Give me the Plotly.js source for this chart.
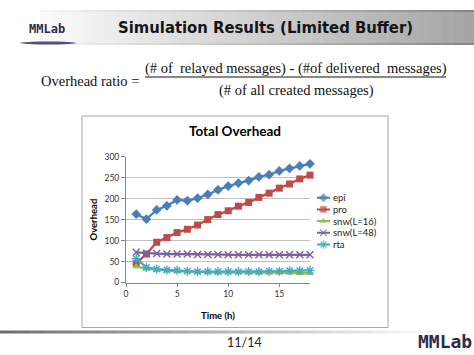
<!DOCTYPE html>
<html>
<head>
<meta charset="utf-8">
<script src="https://cdn.plot.ly/plotly-3.0.1.min.js"></script>
<style>html,body{margin:0;padding:0;background:#fff;}#chart{width:474px;height:355px;}</style>
</head>
<body>
<div id="chart"></div>
<script>
// ---- data ----
const timeH = [1,2,3,4,5,6,7,8,9,10,11,12,13,14,15,16,17,18];
const seriesNames = ['epi','pro','snw(L=16)','snw(L=48)','rta'];
const epi   = [163,151,173,183,197,195,201,210,221,230,237,243,252,257,266,272,278,283];
const pro   = [46,68,96,107,119,127,137,150,162,171,182,191,203,213,225,235,247,256];
const snw16 = [38,33,30,28,27,26,25,25,24,24,24,24,23,23,23,23,22,22];
const snw48 = [72,70,69,68,68,68,67,67,67,66,66,66,66,66,66,66,66,66];
const rta   = [57,36,32,30,29,27,26,26,26,26,26,26,26,27,27,28,28,29];
const xTicks = [0,5,10,15];
const yTicks = [0,50,100,150,200,250,300];

const seriesValues = [epi, pro, snw16, snw48, rta];
const colors  = ['#4a7ebb','#be4b48','#98b954','#7d60a0','#46aac5'];
const symbols = ['diamond','square','triangle-up','x-thin-open','asterisk-open'];
const msizes  = [7.5,7,7,7,7.5];

const W = 474, H = 355;
const px = x => x / W;
const py = y => 1 - y / H;

const traces = [];
seriesValues.forEach((vals, i) => {
  const open = symbols[i].indexOf('open') >= 0;
  traces.push({
    x: timeH, y: vals, name: seriesNames[i], type: 'scatter', mode: 'lines+markers',
    line: {color: colors[i], width: 2.3},
    marker: {symbol: symbols[i], size: msizes[i], color: colors[i], line: {color: colors[i], width: open ? 1.4 : 0}},
    showlegend: false, xaxis: 'x', yaxis: 'y', cliponaxis: false
  });
  // legend sample
  traces.push({
    x: [0, 0.5, 1], y: [i, i, i], type: 'scatter', mode: 'lines+markers',
    line: {color: colors[i], width: 2},
    marker: {symbol: symbols[i], size: [0, msizes[i] - 0.5, 0], color: colors[i], line: {color: colors[i], width: open ? 1.3 : 0}},
    showlegend: false, xaxis: 'x2', yaxis: 'y2', hoverinfo: 'skip', cliponaxis: false
  });
});

const shapes = [];
// title bar gradient strips
const barL = 40, barR = 474, nStrips = 40;
for (let k = 0; k < nStrips; k++) {
  const t = k / (nStrips - 1);
  const g = Math.round(250 - t * 85);
  const x0 = barL + (barR - barL) * k / nStrips, x1 = barL + (barR - barL) * (k + 1) / nStrips + 0.5;
  shapes.push({type: 'rect', xref: 'paper', yref: 'paper', x0: px(x0), x1: px(x1), y0: py(44), y1: py(11),
    fillcolor: `rgb(${g},${g},${g})`, line: {width: 0}, layer: 'below'});
  const g2 = Math.round(245 - t * 110);
  shapes.push({type: 'rect', xref: 'paper', yref: 'paper', x0: px(x0), x1: px(x1), y0: py(12), y1: py(10),
    fillcolor: `rgb(${g2},${g2},${g2})`, line: {width: 0}, layer: 'below'});
  shapes.push({type: 'rect', xref: 'paper', yref: 'paper', x0: px(x0), x1: px(x1), y0: py(45), y1: py(43),
    fillcolor: `rgb(${g2},${g2},${g2})`, line: {width: 0}, layer: 'below'});
}
// logo shadow
shapes.push({type: 'circle', xref: 'paper', yref: 'paper', x0: px(20), x1: px(76), y0: py(44.5), y1: py(41.5),
  fillcolor: 'rgba(40,40,90,0.8)', line: {width: 0}});
// fraction bar
shapes.push({type: 'line', xref: 'paper', yref: 'paper', x0: px(145), x1: px(446), y0: py(77), y1: py(77),
  line: {color: '#111', width: 1}});
// chart box
shapes.push({type: 'rect', xref: 'paper', yref: 'paper', x0: px(82), x1: px(388), y0: py(327.5), y1: py(116),
  line: {color: '#a6a6a6', width: 1}, fillcolor: 'rgba(0,0,0,0)', layer: 'below'});
// bottom line gradient
const nB = 30;
for (let k = 0; k < nB; k++) {
  const t = k / (nB - 1);
  const g = Math.round(110 + t * 140);
  shapes.push({type: 'rect', xref: 'paper', yref: 'paper', x0: px(430 * k / nB), x1: px(430 * (k + 1) / nB + 0.5),
    y0: py(333.5), y1: py(330.5), fillcolor: `rgb(${g},${g},${g})`, line: {width: 0}, layer: 'below'});
}

function ann(text, x, y, font, xanchor) {
  return {text: text, x: px(x), y: py(y), xref: 'paper', yref: 'paper', showarrow: false,
    xanchor: xanchor || 'center', yanchor: 'middle', font: font};
}
const serif = {family: 'Liberation Serif, serif', size: 14.5, color: '#111'};
const annotations = [
  ann('Simulation Results (Limited Buffer)', 265, 27.5,
    {family: 'DejaVu Sans Condensed, sans-serif', size: 16.5, color: '#151515', weight: 'bold'}),
  ann('MMLab', 47, 28.5, {family: 'DejaVu Sans Mono, monospace', size: 12, color: '#2c2c4e', weight: 'bold'}),
  ann('MMLab', 445, 341, {family: 'DejaVu Sans Mono, monospace', size: 18, color: '#2c2c4e', weight: 'bold'}),
  ann('Overhead ratio =', 39, 80.5, serif, 'left'),
  ann('(# of  relayed messages) - (#of delivered  messages)', 296, 69, serif),
  ann('(# of all created messages)', 296, 90.5, serif),
  ann('Total Overhead', 235, 131, {family: 'Lato, sans-serif', size: 13.5, color: '#000', weight: 'bold'}),
  ann('11/14', 244, 342, {family: 'Lato, sans-serif', size: 12.5, color: '#222'})
];
seriesNames.forEach((n, i) => {
  annotations.push({text: n, x: px(331), y: i, xref: 'paper', yref: 'y2', xanchor: 'left', yanchor: 'middle', showarrow: false,
    font: {family: 'Lato, sans-serif', size: 9.5, color: '#222'}});
});

const layout = {
  width: W, height: H, margin: {l: 0, r: 0, t: 0, b: 0},
  paper_bgcolor: '#fff', plot_bgcolor: 'rgba(0,0,0,0)', showlegend: false,
  xaxis: {domain: [px(126), px(310)], range: [0, 18], tickvals: xTicks, ticktext: xTicks.map(String),
    showgrid: false, zeroline: false, showline: true, linecolor: '#868686', linewidth: 1,
    ticks: 'outside', ticklen: 3, tickcolor: '#868686',
    tickfont: {family: 'Lato, sans-serif', size: 8.5, color: '#333'},
    title: {text: 'Time (h)', font: {family: 'Lato, sans-serif', size: 9.5, color: '#000', weight: 'bold'}, standoff: 14}},
  yaxis: {domain: [py(282.5), py(156.7)], range: [0, 300], tickvals: yTicks, ticktext: yTicks.map(String),
    showgrid: true, gridcolor: '#c0c0c0', gridwidth: 1, zeroline: false, showline: true, linecolor: '#868686',
    ticks: 'outside', ticklen: 4, tickcolor: '#868686',
    tickfont: {family: 'Lato, sans-serif', size: 8.5, color: '#333'},
    title: {text: 'Overhead', font: {family: 'Lato, sans-serif', size: 9.5, color: '#000', weight: 'bold'}, standoff: 5}},
  xaxis2: {domain: [px(317), px(330)], range: [0, 1], visible: false, fixedrange: true},
  yaxis2: {domain: [py(250.35), py(191.85)], range: [4.5, -0.5], visible: false, fixedrange: true, anchor: 'x2'},
  shapes: shapes, annotations: annotations
};

Plotly.newPlot('chart', traces, layout, {displayModeBar: false, staticPlot: true});
</script>
</body>
</html>
